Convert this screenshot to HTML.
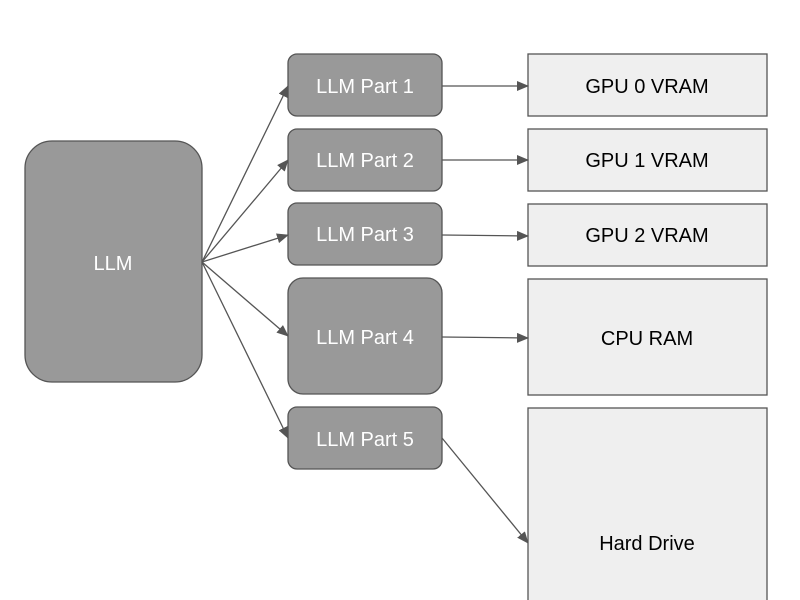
<!DOCTYPE html>
<html><head><meta charset="utf-8"><style>html,body{margin:0;padding:0;background:#fff}svg{display:block}</style></head><body>
<svg width="800" height="600" viewBox="0 0 800 600" xmlns="http://www.w3.org/2000/svg" font-family="Liberation Sans, Arial, sans-serif">
<defs><marker id="a" markerWidth="12" markerHeight="10" refX="11" refY="5" orient="auto" markerUnits="userSpaceOnUse"><path d="M0,0 L12,5 L0,10 z" fill="#555"/></marker></defs>
<g fill="#999" stroke="#555" stroke-width="1.3">
<rect x="25" y="141" width="177" height="241" rx="27"/>
<rect x="288" y="54" width="154" height="62" rx="9"/>
<rect x="288" y="129" width="154" height="62" rx="9"/>
<rect x="288" y="203" width="154" height="62" rx="9"/>
<rect x="288" y="278" width="154" height="116" rx="15"/>
<rect x="288" y="407" width="154" height="62" rx="9"/>
</g>
<g fill="#efefef" stroke="#555" stroke-width="1.3">
<rect x="528" y="54" width="239" height="62"/>
<rect x="528" y="129" width="239" height="62"/>
<rect x="528" y="204" width="239" height="62"/>
<rect x="528" y="279" width="239" height="116"/>
<rect x="528" y="408" width="239" height="200"/>
</g>
<g stroke="#555" stroke-width="1.3" fill="none" marker-end="url(#a)">
<line x1="202" y1="262" x2="288" y2="86"/>
<line x1="202" y1="262" x2="288" y2="160"/>
<line x1="202" y1="262" x2="288" y2="235"/>
<line x1="202" y1="262" x2="288" y2="336"/>
<line x1="202" y1="262" x2="288" y2="438"/>
<line x1="442" y1="86" x2="528" y2="86"/>
<line x1="442" y1="160" x2="528" y2="160"/>
<line x1="442" y1="235" x2="528" y2="236"/>
<line x1="442" y1="337" x2="528" y2="338"/>
<line x1="442" y1="438" x2="528" y2="543"/>
</g>
<g fill="#fff" font-size="20" text-anchor="middle">
<text x="113" y="270">LLM</text>
<text x="365" y="93">LLM Part 1</text>
<text x="365" y="167">LLM Part 2</text>
<text x="365" y="241">LLM Part 3</text>
<text x="365" y="344">LLM Part 4</text>
<text x="365" y="446">LLM Part 5</text>
</g>
<g fill="#000" font-size="20" text-anchor="middle">
<text x="647" y="93">GPU 0 VRAM</text>
<text x="647" y="167">GPU 1 VRAM</text>
<text x="647" y="242">GPU 2 VRAM</text>
<text x="647" y="345">CPU RAM</text>
<text x="647" y="550">Hard Drive</text>
</g>
</svg>
</body></html>
